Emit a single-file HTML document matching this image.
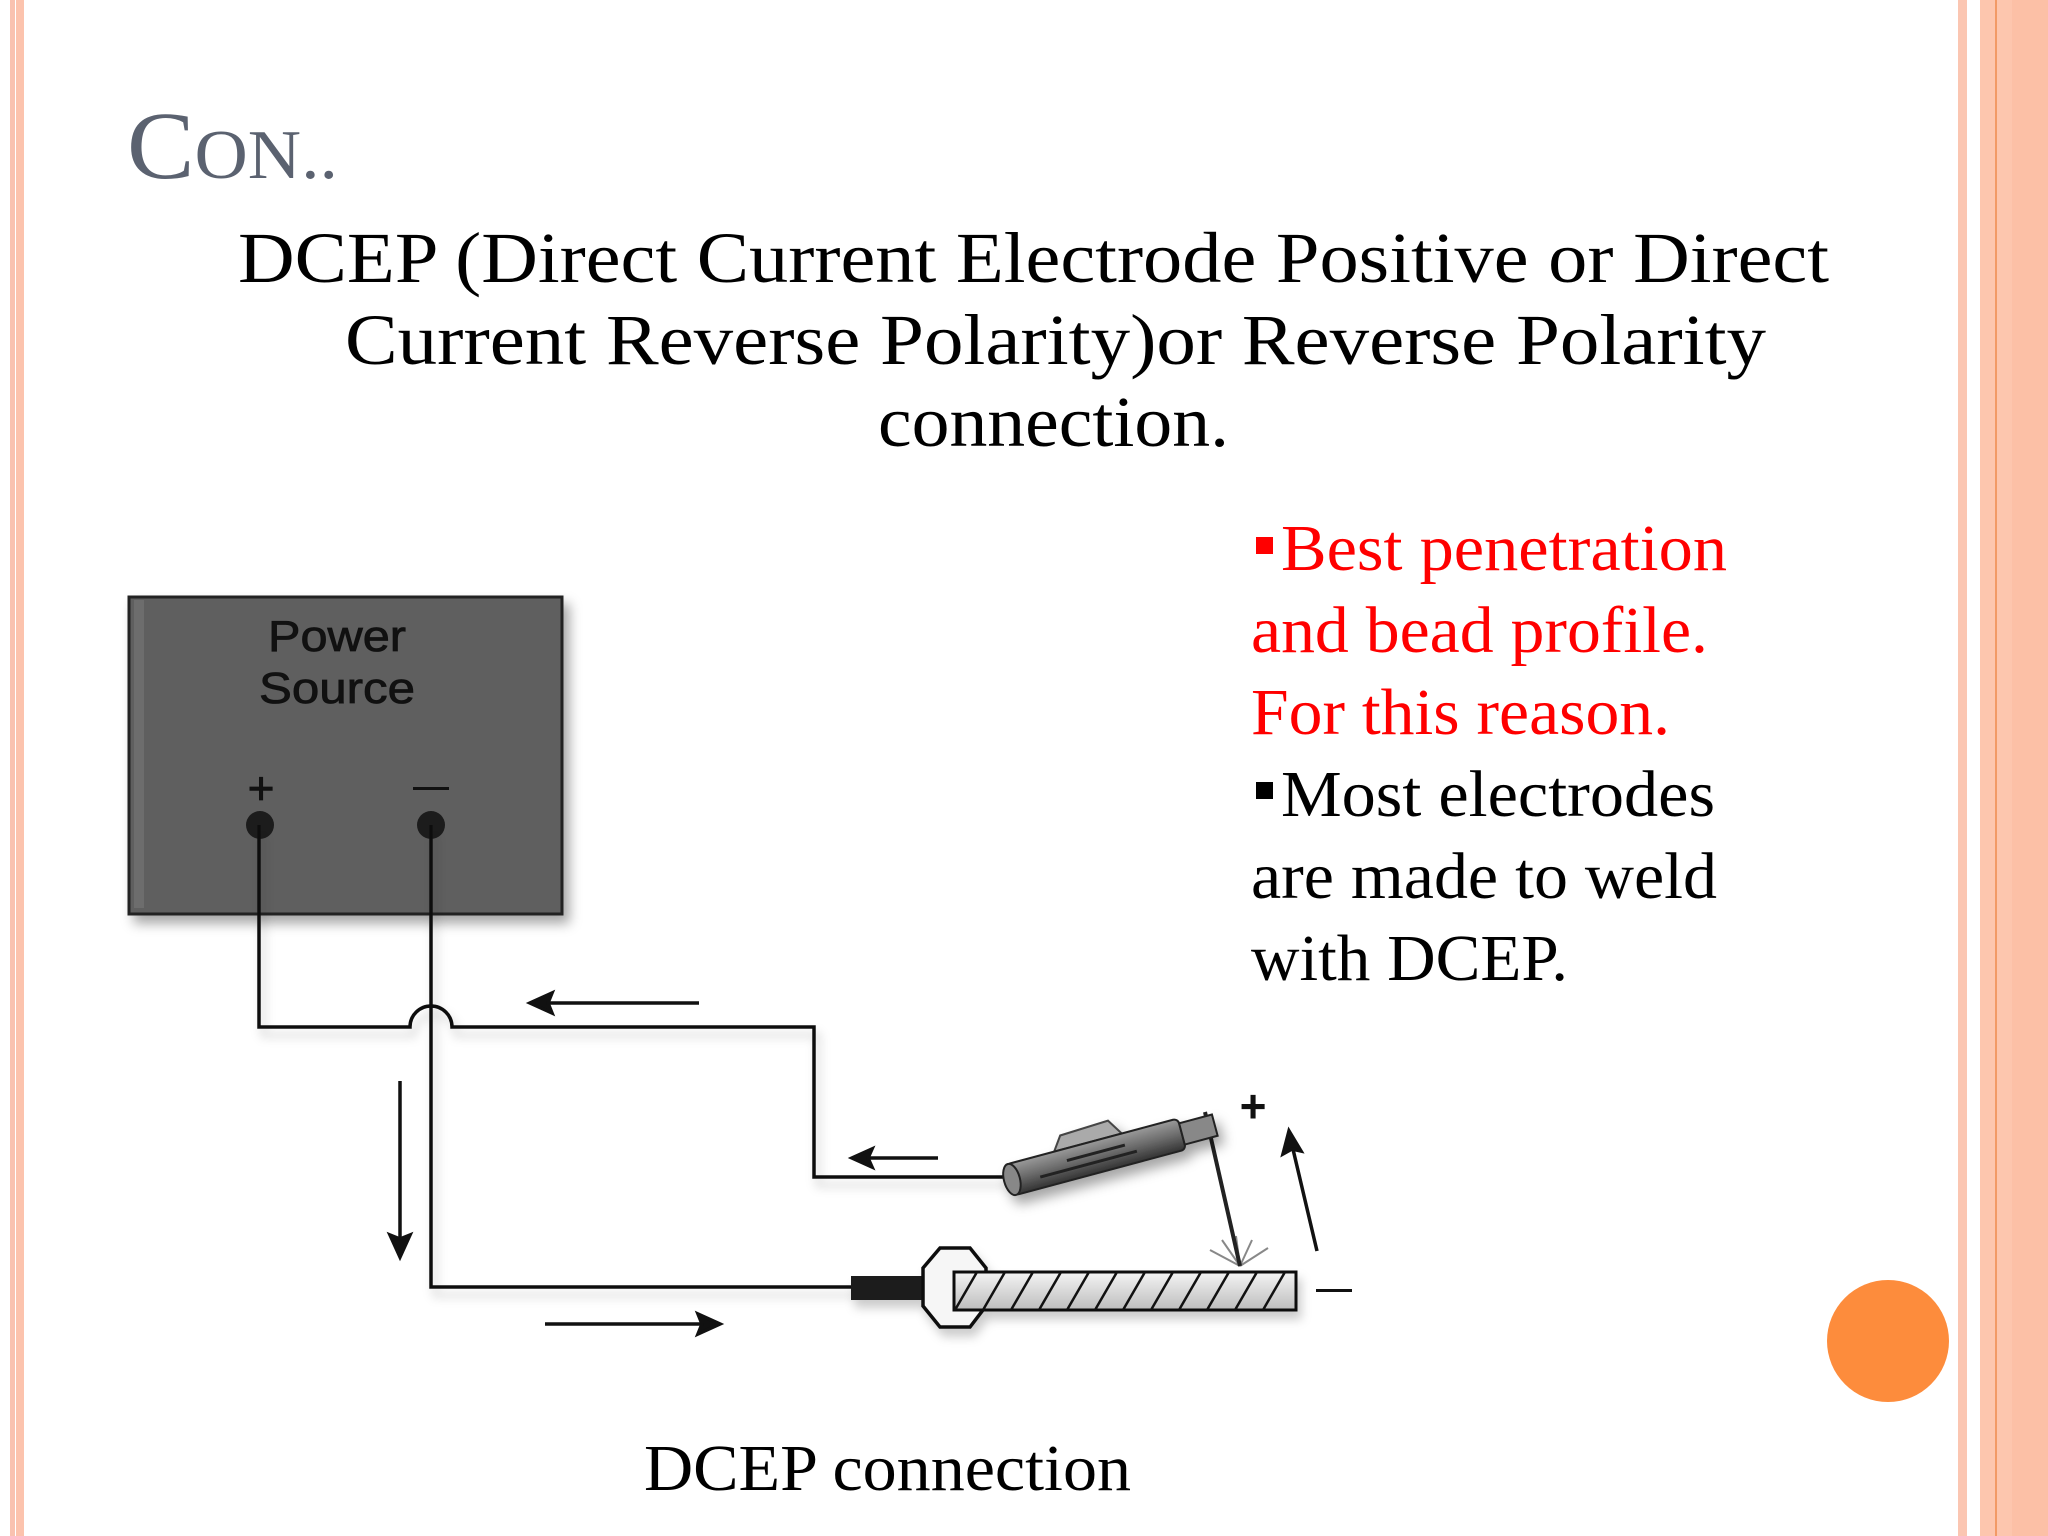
<!DOCTYPE html>
<html><head><meta charset="utf-8"><style>
html,body{margin:0;padding:0;background:#fff}
body{width:2048px;height:1536px;position:relative;overflow:hidden}
</style></head><body>
<svg width="2048" height="1536" viewBox="0 0 2048 1536" xmlns="http://www.w3.org/2000/svg" style="position:absolute;left:0;top:0">
<defs>
<filter id="sh" x="-20%" y="-20%" width="150%" height="150%"><feDropShadow dx="6" dy="8" stdDeviation="6" flood-color="#000" flood-opacity="0.35"/></filter>
<filter id="sh2" x="-20%" y="-50%" width="150%" height="250%"><feDropShadow dx="4" dy="8" stdDeviation="5" flood-color="#000" flood-opacity="0.2"/></filter>
<linearGradient id="tg" x1="0" y1="0" x2="0" y2="1"><stop offset="0" stop-color="#9a9a9a"/><stop offset="0.5" stop-color="#6a6a6a"/><stop offset="1" stop-color="#333"/></linearGradient>
<linearGradient id="bg" x1="0" y1="0" x2="0" y2="1"><stop offset="0" stop-color="#f4f4f4"/><stop offset="1" stop-color="#bdbdbd"/></linearGradient>
<clipPath id="barclip"><rect x="954" y="1272" width="342" height="38"/></clipPath>
</defs>
<rect x="10" y="0" width="5" height="1536" fill="#f9c2b0"/>
<rect x="16" y="0" width="8" height="1536" fill="#fcc3ad"/>
<rect x="1958" y="0" width="9" height="1536" fill="#fbc6b2"/>
<rect x="1980" y="0" width="68" height="1536" fill="#fdc6ae"/>
<rect x="1995" y="0" width="2" height="1536" fill="#f29a66"/>
<rect x="2012" y="0" width="36" height="1536" fill="#fcc0a6"/>

<text x="127" y="178" font-family="Liberation Serif, serif" fill="#5b6270" font-size="96" textLength="211" lengthAdjust="spacingAndGlyphs">C<tspan font-size="70">ON..</tspan></text>

<g font-family="Liberation Serif, serif" fill="#000" font-size="72">
<text x="238" y="282" textLength="1591" lengthAdjust="spacingAndGlyphs">DCEP (Direct Current Electrode Positive or Direct</text>
<text x="345" y="364" textLength="1421" lengthAdjust="spacingAndGlyphs">Current Reverse Polarity)or Reverse Polarity</text>
<text x="878" y="446" textLength="351" lengthAdjust="spacingAndGlyphs">connection.</text>
</g>

<g font-family="Liberation Serif, serif" font-size="66">
<rect x="1256" y="537" width="17" height="17" fill="#ff0000"/>
<text x="1281" y="570" fill="#ff0000" textLength="446" lengthAdjust="spacingAndGlyphs">Best penetration</text>
<text x="1251" y="652" fill="#ff0000" textLength="457" lengthAdjust="spacingAndGlyphs">and bead profile.</text>
<text x="1251" y="734" fill="#ff0000" textLength="419" lengthAdjust="spacingAndGlyphs">For this reason.</text>
<rect x="1256" y="782" width="17" height="17" fill="#000"/>
<text x="1281" y="816" fill="#000" textLength="434" lengthAdjust="spacingAndGlyphs">Most electrodes</text>
<text x="1251" y="898" fill="#000" textLength="466" lengthAdjust="spacingAndGlyphs">are made to weld</text>
<text x="1251" y="980" fill="#000" textLength="317" lengthAdjust="spacingAndGlyphs">with DCEP.</text>
</g>

<text x="644" y="1490" font-family="Liberation Serif, serif" font-size="66" fill="#000" textLength="487" lengthAdjust="spacingAndGlyphs">DCEP connection</text>

<circle cx="1888" cy="1341" r="61" fill="#fd8c3c"/>

<g filter="url(#sh)">
<rect x="129" y="597" width="433" height="317" fill="#5f5f5f" stroke="#222" stroke-width="3"/>
</g>
<rect x="134" y="600" width="10" height="308" fill="#777" opacity="0.6"/>
<g font-family="Liberation Sans, sans-serif" font-size="44" fill="#111" stroke="#111" stroke-width="0.8" text-anchor="middle">
<text x="337" y="651" textLength="138" lengthAdjust="spacingAndGlyphs">Power</text>
<text x="337" y="703" textLength="156" lengthAdjust="spacingAndGlyphs">Source</text>
<text x="261" y="804" font-size="46">+</text>
</g>
<rect x="413" y="787" width="36" height="3" fill="#111"/>
<circle cx="260" cy="825" r="14" fill="#1c1c1c"/>
<circle cx="431" cy="825" r="14" fill="#1c1c1c"/>

<g fill="none" stroke="#111" stroke-width="3.5" filter="url(#sh2)">
<path d="M259 825 V1027 H410 A20 20 0 0 1 452 1027 H814 V1177 H1008"/>
<path d="M431 825 V1287 H855"/>
</g>
<g stroke="#111" stroke-width="3.5" fill="#111">
<line x1="699" y1="1003" x2="545" y2="1003"/><polygon points="530,1003 552,993 548,1003 552,1013"/>
<line x1="400" y1="1081" x2="400" y2="1240"/><polygon points="400,1257 390,1235 400,1239 410,1235"/>
<line x1="545" y1="1324" x2="705" y2="1324"/><polygon points="720,1324 698,1314 702,1324 698,1334"/>
<line x1="938" y1="1158" x2="866" y2="1158"/><polygon points="852,1158 872,1149 868,1158 872,1167"/>
<line x1="1317" y1="1251" x2="1292" y2="1145"/><polygon points="1289,1131 1283,1154 1292,1149 1301,1151"/>
</g>
<text x="1253" y="1122" text-anchor="middle" font-family="Liberation Sans, sans-serif" font-size="46" font-weight="bold" fill="#111">+</text>
<rect x="1316" y="1289" width="36" height="3" fill="#111"/>

<g filter="url(#sh2)">
<rect x="851" y="1276" width="76" height="24" fill="#1a1a1a"/>
<polygon points="940,1248 970,1248 986,1268 986,1306 970,1327 940,1327 923,1306 923,1268" fill="#f6f6f6" stroke="#111" stroke-width="3.5"/>
<rect x="954" y="1272" width="342" height="38" fill="url(#bg)" stroke="#111" stroke-width="3"/>
</g>
<g clip-path="url(#barclip)" stroke="#111" stroke-width="2.5">
<line x1="955" y1="1310" x2="977" y2="1272"/><line x1="983" y1="1310" x2="1005" y2="1272"/><line x1="1011" y1="1310" x2="1033" y2="1272"/><line x1="1039" y1="1310" x2="1061" y2="1272"/><line x1="1067" y1="1310" x2="1089" y2="1272"/><line x1="1095" y1="1310" x2="1117" y2="1272"/><line x1="1123" y1="1310" x2="1145" y2="1272"/><line x1="1151" y1="1310" x2="1173" y2="1272"/><line x1="1179" y1="1310" x2="1201" y2="1272"/><line x1="1207" y1="1310" x2="1229" y2="1272"/><line x1="1235" y1="1310" x2="1257" y2="1272"/><line x1="1263" y1="1310" x2="1285" y2="1272"/>
</g>
<g stroke="#888" stroke-width="2">
<line x1="1240" y1="1266" x2="1210" y2="1250"/><line x1="1240" y1="1266" x2="1222" y2="1240"/><line x1="1240" y1="1266" x2="1236" y2="1236"/><line x1="1240" y1="1266" x2="1252" y2="1240"/><line x1="1240" y1="1266" x2="1268" y2="1248"/>
</g>
<line x1="1205" y1="1112" x2="1240" y2="1266" stroke="#222" stroke-width="4"/>
<g filter="url(#sh)">
<g transform="translate(1010,1180) rotate(-15)">
<path d="M50 -16 L60 -30 L110 -32 L120 -16 Z" fill="#aaa" stroke="#444" stroke-width="2"/>
<rect x="0" y="-16" width="178" height="32" rx="5" fill="url(#tg)" stroke="#222" stroke-width="2"/>
<ellipse cx="2" cy="0" rx="8" ry="16" fill="#888" stroke="#222" stroke-width="2"/>
<rect x="178" y="-11" width="34" height="22" fill="#888" stroke="#222" stroke-width="2"/>
<line x1="30" y1="5" x2="130" y2="5" stroke="#222" stroke-width="3"/>
<line x1="60" y1="-4" x2="120" y2="-4" stroke="#222" stroke-width="3"/>
</g>
</g>
</svg>
</body></html>
